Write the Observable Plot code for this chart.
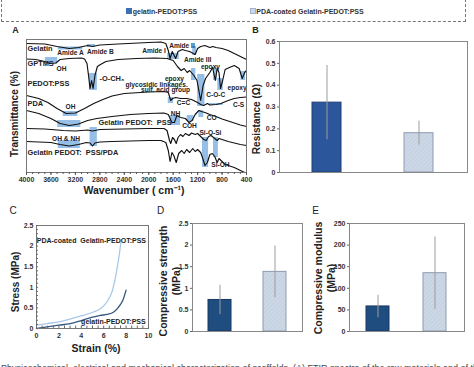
<!DOCTYPE html>
<html><head><meta charset="utf-8">
<script src="https://cdn.jsdelivr.net/npm/d3@7"></script>
<script src="https://cdn.jsdelivr.net/npm/@observablehq/plot@0.6"></script>
<style>
body{margin:0;background:#fff;}
#fig{position:relative;width:474px;height:367px;overflow:hidden;background:#fff;font-family:"Liberation Sans",Arial,sans-serif;color:#222;}
#fig svg{position:absolute;overflow:visible;}
.t{position:absolute;white-space:nowrap;transform:translate(-50%,-50%);font-weight:bold;line-height:1;}
.rot{transform:translate(-50%,-50%) rotate(-90deg);}
</style></head><body>
<svg width="0" height="0" style="position:absolute"><defs>
<pattern id="hatch" patternUnits="userSpaceOnUse" width="3" height="3" patternTransform="rotate(45)">
<rect width="3" height="3" fill="#cdd8e7"/><line x1="0" y1="0" x2="0" y2="3" stroke="#b9c7da" stroke-width="1"/></pattern></defs></svg>
<div id="fig"></div>
<script>
// ---------- DATA ----------
const groups = ["gelatin-PEDOT:PSS", "PDA-coated Gelatin-PEDOT:PSS"];
const resistanceMean = [0.32, 0.18];
const resistanceSD = [0.17, 0.055];
const strengthMean = [0.73, 1.38];
const strengthSD = [0.34, 0.6];
const modulusMean = [58, 135];
const modulusSD = [26, 84];

// stress-strain curves (strain %, stress MPa)
const strainPDA = [0, 0.95, 2, 3, 4.07, 5.1, 5.7, 6.3, 6.74, 7.03, 7.24, 7.42, 7.54];
const stressPDA = [0.08, 0.12, 0.16, 0.23, 0.31, 0.40, 0.48, 0.65, 0.89, 1.21, 1.53, 1.85, 2.1];
const strainGel = [0, 0.95, 2, 3, 4.07, 5.1, 5.7, 6.3, 6.9, 7.33, 7.72, 8.0];
const stressGel = [0, 0.04, 0.08, 0.12, 0.2, 0.28, 0.32, 0.34, 0.40, 0.52, 0.69, 0.93];

// FTIR spectra: [wavenumber cm-1, offset depth (stacked, larger = lower)]
const specGelatin = [[4000,43],[3700,43.5],[3500,46],[3300,48],[3150,47],[3000,45],[2920,46],[2800,44.5],[2500,43.5],[2000,42],[1800,41.5],[1720,43],[1680,50],[1650,58],[1615,51],[1560,58],[1520,51],[1450,49],[1400,50],[1330,51],[1240,54],[1200,48],[1150,46],[1080,45],[1000,47],[950,46],[900,47],[800,48],[700,50],[600,53],[500,56],[400,59]];
const specGPTMS = [[4000,58.5],[3850,59],[3700,61],[3620,63],[3520,62.5],[3450,59],[3300,58],[3100,57.5],[3050,58.5],[3010,63],[2985,75],[2960,88],[2935,80],[2910,88],[2880,75],[2840,66],[2790,64],[2700,61],[2500,59],[2200,58],[1900,57.5],[1700,58],[1600,60],[1530,66],[1470,70],[1420,68],[1370,72],[1330,70],[1260,75],[1210,80],[1150,100],[1110,85],[1070,78],[1000,72],[955,67],[910,80],[880,68],[850,72],[825,88],[790,80],[750,69],[680,67],[600,65],[520,68],[470,78],[430,72],[400,70]];
const specPEDOT = [[4000,95],[3800,98],[3650,102],[3500,108],[3350,113],[3200,112.5],[3050,108],[2900,103],[2750,99],[2600,95.5],[2400,93],[2000,91.5],[1750,91],[1680,92],[1640,100],[1610,98],[1560,97],[1480,98],[1380,98],[1300,99],[1200,102],[1150,104],[1100,105],[1040,103],[1000,104.5],[900,104],[820,103],[700,100],[600,98],[500,97],[400,96.5]];
const specPDA = [[4000,110],[3800,113],[3600,118],[3450,123],[3300,125],[3150,123.5],[3000,120],[2850,118],[2600,116],[2300,114],[2000,113],[1750,112.5],[1680,114],[1620,122],[1580,122],[1540,115],[1480,117],[1400,118],[1340,122],[1290,120],[1240,114],[1180,110],[1140,111],[1080,112],[1000,114],[900,116],[800,118.5],[700,120.5],[600,122.5],[500,124.5],[400,126]];
const specGelPEDOT = [[4000,128],[3700,128.5],[3400,130],[3200,130.5],[3000,129.5],[2920,130.5],[2800,129],[2400,128.5],[2000,128],[1750,128],[1700,130],[1660,140],[1640,143],[1610,137],[1580,139],[1550,143],[1520,137],[1480,134],[1440,136],[1400,133],[1340,135],[1300,132.5],[1240,134],[1200,133],[1150,136],[1100,139],[1060,140],[1020,136],[980,135],[920,138],[880,140],[850,138],[800,139],[700,141],[600,142.5],[500,144],[400,145]];
const specGelPEDOTPDA = [[4000,141],[3800,141.5],[3600,142],[3450,144],[3300,145.5],[3150,144],[3020,142],[2960,142.5],[2920,145.5],[2880,142.5],[2800,141.5],[2600,141],[2300,140.5],[2000,140],[1800,140],[1720,142],[1680,150],[1650,161],[1620,152],[1590,155],[1550,162],[1510,153],[1460,150],[1420,153],[1380,149],[1330,152],[1280,148],[1240,151],[1200,149],[1150,152],[1110,159],[1080,165],[1040,162],[1000,154],[960,153],[920,156],[880,162],[850,158],[800,161],[750,164],[700,165],[600,167],[500,170],[430,172]];
const spectra = [specGelatin, specGPTMS, specPEDOT, specPDA, specGelPEDOT, specGelPEDOTPDA];

// highlighted bands: [w1, w2, depth1, depth2]
const bands = [[3480,3080,46.5,49.5],[3000,2870,44,47],[1690,1500,53,59],[1280,1215,46,55],[3690,3490,57,63.5],[2970,2840,73,90],[1300,1230,68,80],[1200,1080,74,106],[940,880,67,80],[870,780,78,90],[490,415,71,80],[3400,3160,111,116],[1680,1595,97,103],[1010,780,103,105],[3490,3110,120,127],[1650,1480,115,125],[1370,1260,115,121],[1180,1100,110,117],[3480,3120,140,148],[2960,2840,127,146],[1120,1020,137,167],[940,860,137,157]];

// curve names (left anchored)
const nameLabels = [["Gelatin",3984,48],["GPTMS",3984,63],["PEDOT:PSS",3984,83],["PDA",3984,103.5],["Gelatin PEDOT:  PSS",2822,122],["Gelatin PEDOT:  PSS/PDA",3984,152],["-O-CH\u2083",2806,78]];
// peak annotations (centered)
const peakLabels = [["Amide A",3280,52.5],["Amide B",2790,51],["Amide I",1913,50],["Amide II",1456,45],["Amide III",1200,59],["OH",3427,68],["epoxy",1579,78.5],["glycosidic linkages.",1871,84],["sulf. acid group",1725,89.5],["epoxy",990,66.5],["C-O-C",903,94],["epoxy",555,87.5],["C=C",1431,102.5],["C-S",530,104.5],["OH",3280,106],["NH",1562,113.5],["COH",1333,125],["CO",971,117],["OH & NH",3353,138],["Si-O-Si",990,132],["Si-OH",826,164]];

const wavenumberTicks = [4000,3600,3200,2800,2400,2000,1600,1200,800,400];

// ---------- DRAW ----------
const fig = document.getElementById("fig");
const fmt = d => String(+(+d).toFixed(2));
const baseStyle = {fontFamily: '"Liberation Sans", Arial, sans-serif', fontSize: "7px", fontWeight: "bold", color: "#333", background: "transparent", overflow: "visible"};
function place(el, left, top) { el.style.position = "absolute"; el.style.left = left + "px"; el.style.top = top + "px"; fig.appendChild(el); }
function txt(text, cx, cy, size, opts = {}) {
  const d = document.createElement("div");
  d.className = "t" + (opts.rot ? " rot" : "");
  d.textContent = text; d.style.left = cx + "px"; d.style.top = cy + "px"; d.style.fontSize = size + "px";
  if (opts.weight) d.style.fontWeight = opts.weight;
  if (opts.color) d.style.color = opts.color;
  fig.appendChild(d); return d;
}

// legend box
const box = document.createElement("div");
box.style.cssText = "position:absolute;left:1px;top:-6px;width:463px;height:26px;border:1px dashed #777;";
fig.appendChild(box);
function swatch(x, color, border) { const s = document.createElement("div"); s.style.cssText = `position:absolute;left:${x}px;top:8px;width:4px;height:4px;background:${color};border:1px solid ${border};`; fig.appendChild(s); }
swatch(126, "#3d70b2", "#3d70b2");
txt(groups[0], 165, 10.5, 7, {color: "#333"});
swatch(250, "#c9d7ea", "#9fb3cf");
txt(groups[1], 310, 10.5, 7, {color: "#333"});

// Panel A: FTIR
const A = Plot.plot({
  width: 250, height: 175, marginLeft: 26, marginRight: 4, marginTop: 14, marginBottom: 28,
  style: baseStyle,
  x: {domain: [4000, 400]},
  y: {domain: [39, 172], reverse: true, axis: null},
  marks: [
    Plot.rect(bands, {x1: d => d[0], x2: d => d[1], y1: d => d[2], y2: d => d[3], fill: "#72a9de", fillOpacity: 0.75}),
    ...spectra.map(s => Plot.line(s, {x: d => d[0], y: d => d[1], stroke: "#111", strokeWidth: 1.15})),
    Plot.text(nameLabels, {x: d => d[1], y: d => d[2], text: d => d[0], textAnchor: "start", fontSize: 7.4, fill: "#222"}),
    Plot.text(peakLabels, {x: d => d[1], y: d => d[2], text: d => d[0], textAnchor: "middle", fontSize: 6.6, fill: "#222"}),
    Plot.frame({stroke: "#777"}),
    Plot.axisX(d3.range(4000, 399, -100), {tickSize: 2, text: null, label: null, stroke: "#555"}),
    Plot.axisX(wavenumberTicks, {tickSize: 3, tickPadding: 2, tickFormat: d => String(d), label: null, stroke: "#555"})
  ]
});
place(A, 0, 25);
txt("A", 15.5, 30, 9);
txt("Transmittance (%)", 15, 114, 10, {rot: true});
txt("Wavenumber ( cm\u207B\u00B9)", 134, 189.5, 10.5);

// bar panels
function barPanel({means, sds, yDomain, yTicks, width, height, mL, mR, mT, mB, dark, darkStroke, pad}) {
  const rows = groups.map((g, i) => ({group: g, mean: means[i], lo: means[i] - sds[i], hi: means[i] + sds[i]}));
  return Plot.plot({
    width, height, marginLeft: mL, marginRight: mR, marginTop: mT, marginBottom: mB,
    style: baseStyle,
    x: {domain: groups, axis: null, paddingInner: pad[0], paddingOuter: pad[1]},
    y: {domain: yDomain, axis: null},
    marks: [
      Plot.barY(rows.slice(0, 1), {x: "group", y: "mean", fill: dark, stroke: darkStroke, strokeWidth: 1}),
      Plot.barY(rows.slice(1), {x: "group", y: "mean", fill: "url(#hatch)", stroke: "#8d9bb0", strokeWidth: 1}),
      Plot.ruleX(rows, {x: "group", y1: "lo", y2: "hi", stroke: "#9c9c9c", strokeWidth: 1}),
      Plot.frame({stroke: "#888"}),
      Plot.axisY(yTicks, {tickSize: 2, tickPadding: 2, tickFormat: fmt, label: null, stroke: "#666"})
    ]
  });
}

const B = barPanel({means: resistanceMean, sds: resistanceSD, yDomain: [0, 0.6], yTicks: [0, 0.1, 0.2, 0.3, 0.4, 0.5, 0.6],
  width: 229, height: 160, mL: 34, mR: 7, mT: 16, mB: 13, dark: "#2b569b", darkStroke: "#1e3f75", pad: [0.68, 0.36]});
place(B, 245, 25);
txt("B", 255.5, 30, 9);
txt("Resistance (\u03A9)", 257, 119, 10, {rot: true});

// Panel C: stress-strain
const lightCurve = strainPDA.map((x, i) => ({strain: x, stress: stressPDA[i]}));
const darkCurve = strainGel.map((x, i) => ({strain: x, stress: stressGel[i]}));
const C = Plot.plot({
  width: 160, height: 150, marginLeft: 36, marginRight: 12, marginTop: 25, marginBottom: 22,
  style: baseStyle,
  x: {domain: [0, 10], axis: null},
  y: {domain: [0, 2.5], axis: null},
  marks: [
    Plot.line(lightCurve, {x: "strain", y: "stress", stroke: "#a9c8e6", strokeWidth: 1.3, curve: "monotone-x"}),
    Plot.line(darkCurve, {x: "strain", y: "stress", stroke: "#34577f", strokeWidth: 1.3, curve: "monotone-x"}),
    Plot.text([groups[1].replace(" ", "  ")], {x: 4.9, y: 2.14, text: d => d, fontSize: 7, fill: "#222"}),
    Plot.text([groups[0]], {x: 9.75, y: 0.17, text: d => d, textAnchor: "end", fontSize: 7, fill: "#222"}),
    Plot.frame({stroke: "#777"}),
    Plot.axisX(d3.range(0, 10.01, 0.5), {tickSize: -2.5, text: null, label: null, stroke: "#666"}),
    Plot.axisY(d3.range(0, 2.51, 0.1), {tickSize: -2, text: null, label: null, stroke: "#666"}),
    Plot.axisX([0, 2, 4, 6, 8, 10], {tickSize: 0, tickPadding: 5, tickFormat: fmt, label: null}),
    Plot.axisY([0, 0.5, 1, 1.5, 2, 2.5], {tickSize: 0, tickPadding: 3, tickFormat: fmt, label: null})
  ]
});
place(C, 0, 200);
txt("C", 13, 210.5, 10, {weight: "normal"});
txt("Stress (MPa)", 16, 282, 10, {rot: true});
txt("Strain (%)", 96, 348, 10.5);

// Panel D
const D = barPanel({means: strengthMean, sds: strengthSD, yDomain: [0, 2.5], yTicks: [0, 0.5, 1, 1.5, 2, 2.5],
  width: 150, height: 150, mL: 32, mR: 8, mT: 23, mB: 19, dark: "#1f4d80", darkStroke: "#173a62", pad: [0.59, 0.28]});
place(D, 160, 200);
txt("D", 160.5, 210.5, 10, {weight: "normal"});
txt("Compressive strength", 163, 281, 10.5, {rot: true});
txt("(MPa)", 176, 281, 10.5, {rot: true});

// Panel E
const E = barPanel({means: modulusMean, sds: modulusSD, yDomain: [0, 250], yTicks: [0, 50, 100, 150, 200, 250],
  width: 162, height: 150, mL: 37, mR: 10, mT: 23, mB: 19, dark: "#1f4d80", darkStroke: "#173a62", pad: [0.59, 0.3]});
place(E, 312, 200);
txt("E", 315.5, 210.5, 10, {weight: "normal"});
txt("Compressive modulus", 318, 277.5, 10.5, {rot: true});
txt("(MPa)", 331, 277.5, 10.5, {rot: true});

// caption (cut off at the bottom of the image, as in the source figure)
const cap = document.createElement("div");
cap.textContent = "Physicochemical, electrical and mechanical characterization of scaffolds. (A) FTIR spectra of the raw materials and of the composite scaffolds showing their bands";
cap.style.cssText = "position:absolute;left:1px;top:363px;font-size:9px;line-height:10px;white-space:nowrap;color:#444;";
fig.appendChild(cap);
</script></body></html>
